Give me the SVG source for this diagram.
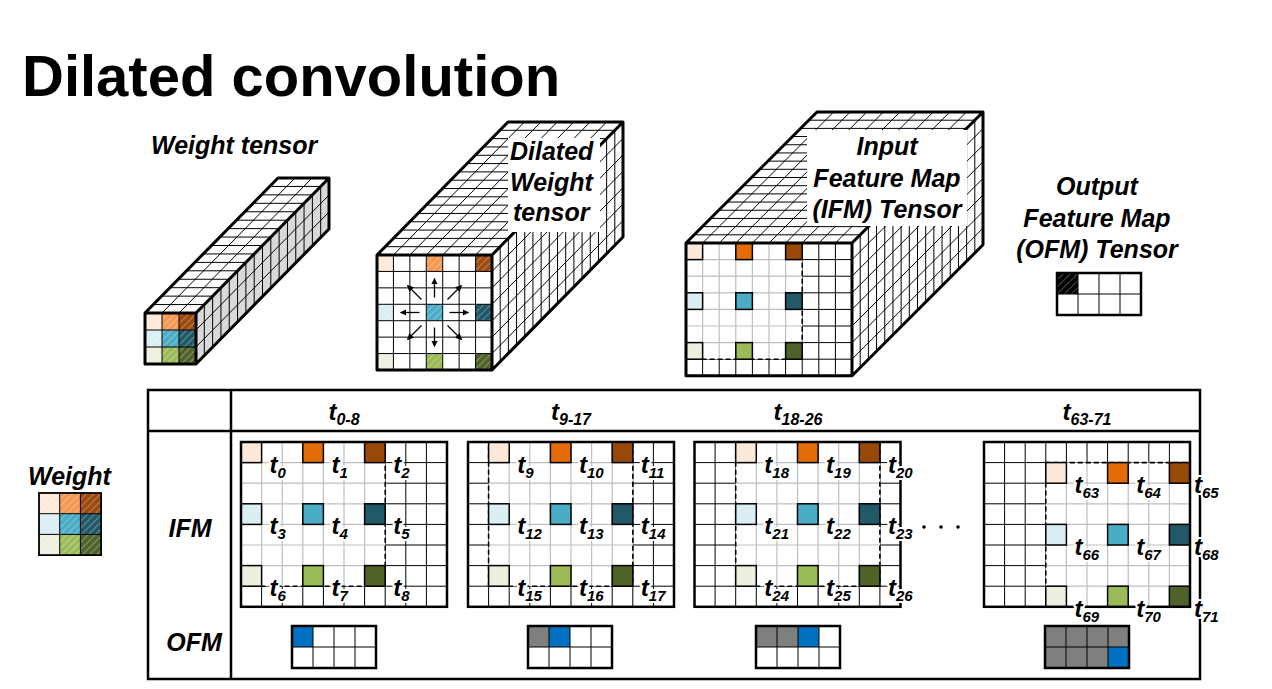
<svg xmlns="http://www.w3.org/2000/svg" width="1272" height="689" viewBox="0 0 1272 689">
<style>
.t{font-family:"Liberation Sans",Arial,sans-serif;font-weight:bold;font-style:italic;fill:#000}
.lb{font-size:25px}
.tl{font-size:24px;stroke:#fff;stroke-width:4px;paint-order:stroke;stroke-linejoin:round}
.hd{font-size:24px}
.thin{fill:none;stroke:#000;stroke-width:1}
.grey{fill:none;stroke:#BFBFBF;stroke-width:1.2}
.ol{fill:none;stroke:#000;stroke-width:3;stroke-linejoin:round}
.cell{stroke:#000;stroke-width:1.5}
.dash{fill:none;stroke:#000;stroke-width:1.6;stroke-dasharray:5 3}
.c1{fill:#FDE9D9}.c2{fill:#E36C09}.c3{fill:#984807}.c4{fill:#DAEEF3}.c5{fill:#4BACC6}.c6{fill:#215968}.c7{fill:#EBF1DE}.c8{fill:#9BBB59}.c9{fill:#4F6228}
.w2{fill:#F59A55}.w3{fill:#9C4A0E}
.h{fill:url(#hatch)}
.gr{fill:#7F7F7F}.bl{fill:#0070C0}
</style>
<defs>
<pattern id="hatch" patternUnits="userSpaceOnUse" width="5" height="5" patternTransform="rotate(45)">
<line x1="0" y1="0" x2="0" y2="5" stroke="#fff" stroke-opacity="0.7" stroke-width="0.9"/>
</pattern>
<marker id="ah" viewBox="0 0 10 10" refX="9" refY="5" markerWidth="5" markerHeight="5" orient="auto">
<path d="M0 0L10 5L0 10z" fill="#000"/>
</marker>
<g id="ifmgrid">
<rect x="0" y="0" width="206" height="164.8" fill="#fff"/>
<path class="thin" stroke-width="1.3" d="M20.6 0v164.8M41.2 0v164.8M61.8 0v164.8M82.4 0v164.8M103 0v164.8M123.6 0v164.8M144.2 0v164.8M164.8 0v164.8M185.4 0v164.8M0 20.6h206M0 41.2h206M0 61.8h206M0 82.4h206M0 103h206M0 123.6h206M0 144.2h206"/>
</g>
<g id="dil">
<rect x="0" y="0" width="144.2" height="144.2" fill="#fff"/>
<path class="grey" d="M20.6 0v144.2M41.2 0v144.2M61.8 0v144.2M82.4 0v144.2M103 0v144.2M123.6 0v144.2M0 20.6h144.2M0 41.2h144.2M0 61.8h144.2M0 82.4h144.2M0 103h144.2M0 123.6h144.2"/>
<rect class="dash" x="0" y="0" width="144.2" height="144.2"/>
</g>
<g id="kern">
<rect class="cell c1" x="0" y="0" width="20.6" height="20.6"/>
<rect class="cell c2" x="61.8" y="0" width="20.6" height="20.6"/>
<rect class="cell c3" x="123.6" y="0" width="20.6" height="20.6"/>
<rect class="cell c4" x="0" y="61.8" width="20.6" height="20.6"/>
<rect class="cell c5" x="61.8" y="61.8" width="20.6" height="20.6"/>
<rect class="cell c6" x="123.6" y="61.8" width="20.6" height="20.6"/>
<rect class="cell c7" x="0" y="123.6" width="20.6" height="20.6"/>
<rect class="cell c8" x="61.8" y="123.6" width="20.6" height="20.6"/>
<rect class="cell c9" x="123.6" y="123.6" width="20.6" height="20.6"/>
</g>
<rect id="ifmborder" x="0" y="0" width="206" height="164.8" fill="none" stroke="#000" stroke-width="2.5"/>
<g id="ofmgrid">
<path class="thin" stroke-width="1.3" d="M21 0v42M42 0v42M63 0v42M0 21h84"/>
<rect x="0" y="0" width="84" height="42" fill="none" stroke="#000" stroke-width="2.5"/>
</g>
</defs>
<rect width="1272" height="689" fill="#fff"/>

<text id="title" x="22" y="96" font-family="'Liberation Sans',Arial,sans-serif" font-weight="bold" font-size="58">Dilated convolution</text>

<g id="weight-tensor">
<text class="t lb" x="151" y="154">Weight tensor</text>
<polygon points="145,313 196,313 329,178 278,178" fill="#fff"/>
<polygon points="196,313 329,178 329,229 196,364" fill="#D9D9D9"/>
<path class="thin" d="M153.31 304.56h51M161.63 296.13h51M169.94 287.69h51M178.25 279.25h51M186.56 270.81h51M194.88 262.38h51M203.19 253.94h51M211.5 245.5h51M219.81 237.06h51M228.13 228.63h51M236.44 220.19h51M244.75 211.75h51M253.06 203.31h51M261.38 194.88h51M269.69 186.44h51M162 313l133 -135M179 313l133 -135"/>
<path class="thin" d="M204.31 304.56v51M212.63 296.13v51M220.94 287.69v51M229.25 279.25v51M237.56 270.81v51M245.88 262.38v51M254.19 253.94v51M262.5 245.5v51M270.81 237.06v51M279.13 228.63v51M287.44 220.19v51M295.75 211.75v51M304.06 203.31v51M312.38 194.88v51M320.69 186.44v51M196 330l133 -135M196 347l133 -135"/>
<rect class="c1" x="145" y="313" width="17" height="17"/><rect class="w2" x="162" y="313" width="17" height="17"/><rect class="w3" x="179" y="313" width="17" height="17"/>
<rect class="c4" x="145" y="330" width="17" height="17"/><rect class="c5" x="162" y="330" width="17" height="17"/><rect class="c6" x="179" y="330" width="17" height="17"/>
<rect class="c7" x="145" y="347" width="17" height="17"/><rect class="c8" x="162" y="347" width="17" height="17"/><rect class="c9" x="179" y="347" width="17" height="17"/>
<rect class="h" x="145" y="313" width="51" height="51"/>
<path class="thin" d="M162 313v51M179 313v51M145 330h51M145 347h51"/>
<path class="ol" d="M145 313h51v51h-51zM145 313l133 -135h51l-133 135M329 178v51l-133 135"/>
</g>

<g id="dilated-weight-tensor">
<polygon points="377,255 492,255 623,122 508,122" fill="#fff"/>
<polygon points="492,255 623,122 623,237 492,370" fill="#fff"/>
<path class="thin" d="M385.19 246.69h115M393.38 238.38h115M401.56 230.06h115M409.75 221.75h115M417.94 213.44h115M426.13 205.13h115M434.31 196.81h115M442.5 188.5h115M450.69 180.19h115M458.88 171.88h115M467.06 163.56h115M475.25 155.25h115M483.44 146.94h115M491.63 138.63h115M499.81 130.31h115M393.43 255l131 -133M409.86 255l131 -133M426.29 255l131 -133M442.71 255l131 -133M459.14 255l131 -133M475.57 255l131 -133"/>
<path class="thin" d="M500.19 246.69v115M508.38 238.38v115M516.56 230.06v115M524.75 221.75v115M532.94 213.44v115M541.13 205.13v115M549.31 196.81v115M557.5 188.5v115M565.69 180.19v115M573.88 171.88v115M582.06 163.56v115M590.25 155.25v115M598.44 146.94v115M606.63 138.63v115M614.81 130.31v115M492 271.43l131 -133M492 287.86l131 -133M492 304.29l131 -133M492 320.71l131 -133M492 337.14l131 -133M492 353.57l131 -133"/>
<rect x="377" y="255" width="115" height="115" fill="#fff"/>
<g transform="translate(377,255)">
<rect class="c1" x="0" y="0" width="16.43" height="16.43"/><rect class="w2" x="49.29" y="0" width="16.43" height="16.43"/><rect class="w3" x="98.57" y="0" width="16.43" height="16.43"/>
<rect class="c4" x="0" y="49.29" width="16.43" height="16.43"/><rect class="c5" x="49.29" y="49.29" width="16.43" height="16.43"/><rect class="c6" x="98.57" y="49.29" width="16.43" height="16.43"/>
<rect class="c7" x="0" y="98.57" width="16.43" height="16.43"/><rect class="c8" x="49.29" y="98.57" width="16.43" height="16.43"/><rect class="c9" x="98.57" y="98.57" width="16.43" height="16.43"/>
<rect class="h" x="0" y="0" width="16.43" height="16.43"/><rect class="h" x="49.29" y="0" width="16.43" height="16.43"/><rect class="h" x="98.57" y="0" width="16.43" height="16.43"/>
<rect class="h" x="0" y="49.29" width="16.43" height="16.43"/><rect class="h" x="49.29" y="49.29" width="16.43" height="16.43"/><rect class="h" x="98.57" y="49.29" width="16.43" height="16.43"/>
<rect class="h" x="0" y="98.57" width="16.43" height="16.43"/><rect class="h" x="49.29" y="98.57" width="16.43" height="16.43"/><rect class="h" x="98.57" y="98.57" width="16.43" height="16.43"/>
<path class="thin" d="M16.43 0v115M32.86 0v115M49.29 0v115M65.71 0v115M82.14 0v115M98.57 0v115M0 16.43h115M0 32.86h115M0 49.29h115M0 65.71h115M0 82.14h115M0 98.57h115"/>
</g>
<g stroke="#000" stroke-width="1.3" marker-end="url(#ah)">
<line x1="434.5" y1="297.5" x2="434.5" y2="278.5"/>
<line x1="434.5" y1="327.5" x2="434.5" y2="346.5"/>
<line x1="419.5" y1="312.5" x2="400.5" y2="312.5"/>
<line x1="449.5" y1="312.5" x2="468.5" y2="312.5"/>
<line x1="421.5" y1="299.5" x2="407.5" y2="285.5"/>
<line x1="447.5" y1="299.5" x2="461.5" y2="285.5"/>
<line x1="421.5" y1="325.5" x2="407.5" y2="339.5"/>
<line x1="447.5" y1="325.5" x2="461.5" y2="339.5"/>
</g>
<path class="ol" d="M377 255h115v115h-115zM377 255l131 -133h115l-131 133M623 122v115l-131 133"/>
<rect x="508" y="138" width="92" height="94" fill="#fff"/>
<text class="t lb" x="510" y="160">Dilated</text>
<text class="t lb" x="510" y="191">Weight</text>
<text class="t lb" x="513" y="221">tensor</text>
</g>

<g id="ifm-tensor">
<polygon points="686,243 852,243 983,112 817,112" fill="#fff"/>
<polygon points="852,243 983,112 983,244.8 852,375.8" fill="#fff"/>
<path class="thin" d="M694.19 234.81h166M702.38 226.63h166M710.56 218.44h166M718.75 210.25h166M726.94 202.06h166M735.13 193.88h166M743.31 185.69h166M751.5 177.5h166M759.69 169.31h166M767.88 161.13h166M776.06 152.94h166M784.25 144.75h166M792.44 136.56h166M800.63 128.38h166M808.81 120.19h166M702.6 243l131 -131M719.2 243l131 -131M735.8 243l131 -131M752.4 243l131 -131M769 243l131 -131M785.6 243l131 -131M802.2 243l131 -131M818.8 243l131 -131M835.4 243l131 -131"/>
<path class="thin" d="M860.19 234.81v132.8M868.38 226.63v132.8M876.56 218.44v132.8M884.75 210.25v132.8M892.94 202.06v132.8M901.13 193.88v132.8M909.31 185.69v132.8M917.5 177.5v132.8M925.69 169.31v132.8M933.88 161.13v132.8M942.06 152.94v132.8M950.25 144.75v132.8M958.44 136.56v132.8M966.63 128.38v132.8M974.81 120.19v132.8M852 259.6l131 -131M852 276.2l131 -131M852 292.8l131 -131M852 309.4l131 -131M852 326l131 -131M852 342.6l131 -131M852 359.2l131 -131"/>
<g transform="translate(686,243)">
<rect x="0" y="0" width="166" height="132.8" fill="#fff"/>
<path class="thin" d="M16.6 0v132.8M33.2 0v132.8M49.8 0v132.8M66.4 0v132.8M83 0v132.8M99.6 0v132.8M116.2 0v132.8M132.8 0v132.8M149.4 0v132.8M0 16.6h166M0 33.2h166M0 49.8h166M0 66.4h166M0 83h166M0 99.6h166M0 116.2h166"/>
<rect x="0" y="0" width="116.2" height="116.2" fill="#fff"/>
<path class="grey" d="M16.6 0v116.2M33.2 0v116.2M49.8 0v116.2M66.4 0v116.2M83 0v116.2M99.6 0v116.2M0 16.6h116.2M0 33.2h116.2M0 49.8h116.2M0 66.4h116.2M0 83h116.2M0 99.6h116.2"/>
<rect class="dash" x="0" y="0" width="116.2" height="116.2"/>
<rect class="cell c1" x="0" y="0" width="16.6" height="16.6"/><rect class="cell c2" x="49.8" y="0" width="16.6" height="16.6"/><rect class="cell c3" x="99.6" y="0" width="16.6" height="16.6"/>
<rect class="cell c4" x="0" y="49.8" width="16.6" height="16.6"/><rect class="cell c5" x="49.8" y="49.8" width="16.6" height="16.6"/><rect class="cell c6" x="99.6" y="49.8" width="16.6" height="16.6"/>
<rect class="cell c7" x="0" y="99.6" width="16.6" height="16.6"/><rect class="cell c8" x="49.8" y="99.6" width="16.6" height="16.6"/><rect class="cell c9" x="99.6" y="99.6" width="16.6" height="16.6"/>
</g>
<path class="ol" d="M686 243h166v132.8h-166zM686 243l131 -131h166l-131 131M983 112v132.8l-131 131"/>
<rect x="807" y="130" width="160" height="96" fill="#fff"/>
<text class="t lb" x="887" y="155" text-anchor="middle">Input</text>
<text class="t lb" x="887" y="187" text-anchor="middle">Feature Map</text>
<text class="t lb" x="887" y="218" text-anchor="middle">(IFM) Tensor</text>
</g>

<g id="ofm-tensor">
<text class="t lb" x="1097" y="195" text-anchor="middle">Output</text>
<text class="t lb" x="1097" y="227" text-anchor="middle">Feature Map</text>
<text class="t lb" x="1097" y="258" text-anchor="middle">(OFM) Tensor</text>
<rect x="1057" y="273" width="21" height="21" fill="#000"/>
<rect class="h" x="1057" y="273" width="21" height="21"/>
<use href="#ofmgrid" transform="translate(1057,273)"/>
</g>

<g id="weight-legend">
<text class="t lb" x="28" y="485">Weight</text>
<rect class="c1" x="39" y="493" width="20.7" height="20.7"/><rect class="w2" x="59.7" y="493" width="20.7" height="20.7"/><rect class="w3" x="80.4" y="493" width="20.7" height="20.7"/>
<rect class="c4" x="39" y="513.7" width="20.7" height="20.7"/><rect class="c5" x="59.7" y="513.7" width="20.7" height="20.7"/><rect class="c6" x="80.4" y="513.7" width="20.7" height="20.7"/>
<rect class="c7" x="39" y="534.4" width="20.7" height="20.7"/><rect class="c8" x="59.7" y="534.4" width="20.7" height="20.7"/><rect class="c9" x="80.4" y="534.4" width="20.7" height="20.7"/>
<rect class="h" x="39" y="493" width="62.1" height="62.1"/>
<path class="thin" d="M59.7 493v62.1M80.4 493v62.1M39 513.7h62.1M39 534.4h62.1"/>
<rect x="39" y="493" width="62.1" height="62.1" fill="none" stroke="#000" stroke-width="1.8"/>
</g>

<g id="table">
<rect x="148" y="390" width="1052" height="289" fill="none" stroke="#000" stroke-width="2.5"/>
<path d="M148 431H1200M231 390V679" stroke="#000" stroke-width="2.5"/>
<text class="t lb" x="190" y="537" text-anchor="middle">IFM</text>
<text class="t lb" x="194" y="651" text-anchor="middle">OFM</text>
<text class="t hd" x="344" y="420" text-anchor="middle">t<tspan font-size="16" dy="5">0-8</tspan></text>
<text class="t hd" x="571" y="420" text-anchor="middle">t<tspan font-size="16" dy="5">9-17</tspan></text>
<text class="t hd" x="798" y="420" text-anchor="middle">t<tspan font-size="16" dy="5">18-26</tspan></text>
<text class="t hd" x="1087" y="420" text-anchor="middle">t<tspan font-size="16" dy="5">63-71</tspan></text>
</g>

<g id="step1">
<g transform="translate(241,442)"><use href="#ifmgrid"/><use href="#dil"/><use href="#kern"/><use href="#ifmborder"/></g>
<text class="t tl" x="269.6" y="472.6">t<tspan font-size="15" dy="5">0</tspan></text>
<text class="t tl" x="331.4" y="472.6">t<tspan font-size="15" dy="5">1</tspan></text>
<text class="t tl" x="393.2" y="472.6">t<tspan font-size="15" dy="5">2</tspan></text>
<text class="t tl" x="269.6" y="534.4">t<tspan font-size="15" dy="5">3</tspan></text>
<text class="t tl" x="331.4" y="534.4">t<tspan font-size="15" dy="5">4</tspan></text>
<text class="t tl" x="393.2" y="534.4">t<tspan font-size="15" dy="5">5</tspan></text>
<text class="t tl" x="269.6" y="596.2">t<tspan font-size="15" dy="5">6</tspan></text>
<text class="t tl" x="331.4" y="596.2">t<tspan font-size="15" dy="5">7</tspan></text>
<text class="t tl" x="393.2" y="596.2">t<tspan font-size="15" dy="5">8</tspan></text>
<rect class="bl" x="292" y="626" width="21" height="21"/>
<use href="#ofmgrid" transform="translate(292,626)"/>
</g>

<g id="step2">
<g transform="translate(468,442)"><use href="#ifmgrid"/><use href="#dil" x="20.6"/><use href="#kern" x="20.6"/><use href="#ifmborder"/></g>
<text class="t tl" x="517.2" y="472.6">t<tspan font-size="15" dy="5">9</tspan></text>
<text class="t tl" x="579" y="472.6">t<tspan font-size="15" dy="5">10</tspan></text>
<text class="t tl" x="640.8" y="472.6">t<tspan font-size="15" dy="5">11</tspan></text>
<text class="t tl" x="517.2" y="534.4">t<tspan font-size="15" dy="5">12</tspan></text>
<text class="t tl" x="579" y="534.4">t<tspan font-size="15" dy="5">13</tspan></text>
<text class="t tl" x="640.8" y="534.4">t<tspan font-size="15" dy="5">14</tspan></text>
<text class="t tl" x="517.2" y="596.2">t<tspan font-size="15" dy="5">15</tspan></text>
<text class="t tl" x="579" y="596.2">t<tspan font-size="15" dy="5">16</tspan></text>
<text class="t tl" x="640.8" y="596.2">t<tspan font-size="15" dy="5">17</tspan></text>
<rect class="gr" x="528" y="626" width="21" height="21"/><rect class="bl" x="549" y="626" width="21" height="21"/>
<use href="#ofmgrid" transform="translate(528,626)"/>
</g>

<g id="step3">
<g transform="translate(694.5,442)"><use href="#ifmgrid"/><use href="#dil" x="41.2"/><use href="#kern" x="41.2"/><use href="#ifmborder"/></g>
<text class="t tl" x="764.3" y="472.6">t<tspan font-size="15" dy="5">18</tspan></text>
<text class="t tl" x="826.1" y="472.6">t<tspan font-size="15" dy="5">19</tspan></text>
<text class="t tl" x="887.9" y="472.6">t<tspan font-size="15" dy="5">20</tspan></text>
<text class="t tl" x="764.3" y="534.4">t<tspan font-size="15" dy="5">21</tspan></text>
<text class="t tl" x="826.1" y="534.4">t<tspan font-size="15" dy="5">22</tspan></text>
<text class="t tl" x="887.9" y="534.4">t<tspan font-size="15" dy="5">23</tspan></text>
<text class="t tl" x="764.3" y="596.2">t<tspan font-size="15" dy="5">24</tspan></text>
<text class="t tl" x="826.1" y="596.2">t<tspan font-size="15" dy="5">25</tspan></text>
<text class="t tl" x="887.9" y="596.2">t<tspan font-size="15" dy="5">26</tspan></text>
<rect class="gr" x="756" y="626" width="42" height="21"/><rect class="bl" x="798" y="626" width="21" height="21"/>
<use href="#ofmgrid" transform="translate(756,626)"/>
</g>

<g id="ellipsis">
<circle cx="924" cy="527" r="1.8"/><circle cx="941" cy="527" r="1.8"/><circle cx="958" cy="527" r="1.8"/>
</g>

<g id="step8">
<g transform="translate(984,442)"><use href="#ifmgrid"/><use href="#dil" x="61.8" y="20.6"/><use href="#kern" x="61.8" y="20.6"/><use href="#ifmborder"/></g>
<text class="t tl" x="1074.4" y="493.2">t<tspan font-size="15" dy="5">63</tspan></text>
<text class="t tl" x="1136.2" y="493.2">t<tspan font-size="15" dy="5">64</tspan></text>
<text class="t tl" x="1194" y="493.2">t<tspan font-size="15" dy="5">65</tspan></text>
<text class="t tl" x="1074.4" y="555">t<tspan font-size="15" dy="5">66</tspan></text>
<text class="t tl" x="1136.2" y="555">t<tspan font-size="15" dy="5">67</tspan></text>
<text class="t tl" x="1194" y="555">t<tspan font-size="15" dy="5">68</tspan></text>
<text class="t tl" x="1074.4" y="616.8">t<tspan font-size="15" dy="5">69</tspan></text>
<text class="t tl" x="1136.2" y="616.8">t<tspan font-size="15" dy="5">70</tspan></text>
<text class="t tl" x="1194" y="616.8">t<tspan font-size="15" dy="5">71</tspan></text>
<rect class="gr" x="1045" y="626" width="84" height="42"/><rect class="bl" x="1108" y="647" width="21" height="21"/>
<use href="#ofmgrid" transform="translate(1045,626)"/>
</g>
</svg>
